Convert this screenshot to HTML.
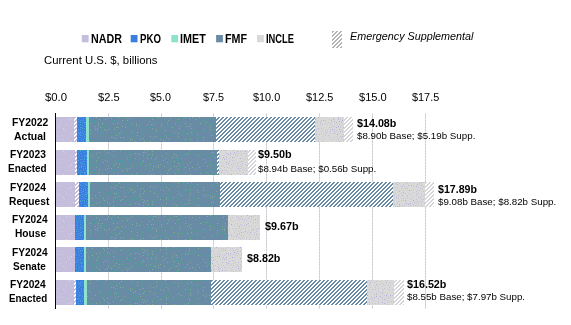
<!DOCTYPE html>
<html><head><meta charset="utf-8"><style>
html,body{margin:0;padding:0;background:#fff;}
body{width:571px;height:325px;position:relative;overflow:hidden;font-family:"Liberation Sans",sans-serif;}
.t{position:absolute;white-space:nowrap;line-height:1;transform-origin:0 0;-webkit-font-smoothing:antialiased;filter:grayscale(1);}
</style></head><body>
<svg width="571" height="325" style="position:absolute;left:0;top:0"><defs><pattern id="t_fmf" width="127" height="50" patternUnits="userSpaceOnUse"><rect width="127" height="50" fill="#6A8BA6"/><path d="M41 9h1v1h-1zM50 41h1v1h-1zM6 4h1v1h-1zM105 34h1v1h-1zM12 23h1v1h-1zM74 3h1v1h-1zM116 32h1v1h-1zM27 2h1v1h-1zM11 27h1v1h-1zM53 4h1v1h-1zM30 5h1v1h-1zM70 27h1v1h-1zM7 36h1v1h-1zM15 14h1v1h-1zM80 40h1v1h-1zM73 37h1v1h-1zM50 3h1v1h-1zM124 14h1v1h-1zM5 35h1v1h-1zM109 8h1v1h-1zM37 26h1v1h-1zM18 34h1v1h-1zM15 36h1v1h-1zM39 35h1v1h-1zM104 43h1v1h-1zM23 6h1v1h-1zM81 12h1v1h-1zM47 6h1v1h-1zM70 45h1v1h-1zM7 39h1v1h-1zM26 31h1v1h-1zM87 34h1v1h-1zM54 49h1v1h-1zM40 29h1v1h-1zM74 29h1v1h-1zM46 19h1v1h-1zM31 11h1v1h-1zM89 49h1v1h-1zM73 19h1v1h-1zM67 31h1v1h-1zM112 21h1v1h-1zM93 28h1v1h-1zM36 38h1v1h-1zM125 4h1v1h-1zM15 32h1v1h-1zM53 10h1v1h-1zM96 21h1v1h-1zM19 31h1v1h-1zM53 2h1v1h-1zM123 42h1v1h-1zM9 48h1v1h-1zM71 36h1v1h-1zM101 20h1v1h-1zM43 44h1v1h-1zM44 38h1v1h-1zM63 37h1v1h-1zM102 29h1v1h-1zM8 5h1v1h-1zM120 17h1v1h-1zM60 44h1v1h-1zM85 4h1v1h-1zM7 46h1v1h-1zM89 19h1v1h-1zM82 36h1v1h-1zM87 28h1v1h-1zM36 45h1v1h-1zM44 1h1v1h-1zM120 29h1v1h-1zM45 10h1v1h-1zM78 7h1v1h-1zM63 3h1v1h-1zM27 49h1v1h-1zM36 8h1v1h-1zM94 15h1v1h-1zM50 25h1v1h-1zM10 10h1v1h-1zM57 25h1v1h-1zM70 17h1v1h-1zM113 8h1v1h-1zM104 27h1v1h-1zM110 35h1v1h-1zM53 22h1v1h-1zM87 24h1v1h-1zM122 14h1v1h-1zM19 5h1v1h-1zM22 9h1v1h-1zM29 42h1v1h-1zM29 0h1v1h-1zM23 16h1v1h-1zM36 0h1v1h-1zM18 26h1v1h-1zM68 23h1v1h-1zM78 36h1v1h-1zM88 32h1v1h-1zM121 39h1v1h-1zM83 43h1v1h-1zM94 3h1v1h-1zM58 49h1v1h-1zM121 43h1v1h-1zM102 35h1v1h-1zM13 30h1v1h-1zM81 25h1v1h-1zM7 12h1v1h-1zM56 10h1v1h-1zM14 21h1v1h-1zM76 3h1v1h-1zM13 0h1v1h-1zM72 9h1v1h-1zM68 6h1v1h-1zM121 23h1v1h-1zM78 1h1v1h-1zM9 13h1v1h-1zM78 24h1v1h-1zM19 40h1v1h-1zM32 22h1v1h-1zM60 7h1v1h-1zM125 29h1v1h-1zM61 30h1v1h-1zM39 5h1v1h-1zM20 33h1v1h-1zM2 13h1v1h-1zM121 33h1v1h-1zM117 1h1v1h-1zM97 33h1v1h-1zM38 41h1v1h-1zM110 5h1v1h-1zM89 16h1v1h-1zM66 23h1v1h-1zM116 10h1v1h-1zM45 49h1v1h-1zM28 34h1v1h-1zM69 49h1v1h-1zM64 21h1v1h-1zM81 14h1v1h-1zM78 48h1v1h-1zM109 12h1v1h-1zM103 15h1v1h-1zM104 25h1v1h-1zM25 33h1v1h-1zM93 1h1v1h-1zM126 1h1v1h-1zM101 17h1v1h-1zM60 16h1v1h-1zM24 44h1v1h-1zM77 22h1v1h-1zM57 46h1v1h-1zM126 22h1v1h-1zM13 14h1v1h-1zM60 12h1v1h-1zM43 13h1v1h-1zM61 39h1v1h-1zM126 39h1v1h-1zM107 0h1v1h-1zM61 41h1v1h-1zM44 41h1v1h-1zM10 42h1v1h-1zM15 24h1v1h-1zM100 45h1v1h-1zM96 12h1v1h-1zM55 40h1v1h-1zM42 5h1v1h-1zM102 46h1v1h-1zM50 29h1v1h-1zM51 47h1v1h-1zM121 5h1v1h-1zM92 10h1v1h-1zM3 9h1v1h-1zM103 41h1v1h-1zM105 38h1v1h-1zM84 22h1v1h-1zM70 8h1v1h-1zM2 0h1v1h-1zM83 6h1v1h-1zM67 47h1v1h-1zM119 8h1v1h-1zM55 12h1v1h-1zM105 13h1v1h-1zM3 16h1v1h-1zM27 18h1v1h-1zM64 15h1v1h-1zM97 37h1v1h-1zM41 16h1v1h-1zM106 8h1v1h-1zM45 29h1v1h-1zM84 37h1v1h-1zM53 32h1v1h-1zM16 34h1v1h-1zM65 1h1v1h-1zM111 28h1v1h-1zM99 11h1v1h-1zM99 9h1v1h-1zM92 7h1v1h-1zM71 3h1v1h-1zM41 43h1v1h-1zM66 33h1v1h-1zM71 30h1v1h-1zM100 49h1v1h-1zM13 35h1v1h-1zM7 15h1v1h-1zM5 49h1v1h-1zM12 32h1v1h-1zM57 35h1v1h-1zM3 48h1v1h-1zM114 4h1v1h-1zM56 20h1v1h-1zM78 32h1v1h-1zM35 28h1v1h-1zM112 16h1v1h-1zM118 35h1v1h-1zM114 12h1v1h-1zM107 28h1v1h-1zM30 27h1v1h-1zM85 19h1v1h-1zM100 7h1v1h-1zM114 49h1v1h-1zM19 45h1v1h-1zM32 8h1v1h-1zM123 29h1v1h-1zM28 47h1v1h-1zM50 31h1v1h-1zM20 42h1v1h-1zM55 32h1v1h-1zM51 21h1v1h-1zM53 12h1v1h-1zM11 46h1v1h-1zM46 1h1v1h-1zM43 35h1v1h-1zM58 28h1v1h-1zM90 1h1v1h-1zM49 21h1v1h-1zM66 39h1v1h-1zM37 32h1v1h-1zM124 6h1v1h-1zM10 16h1v1h-1zM34 2h1v1h-1zM96 8h1v1h-1zM108 43h1v1h-1zM51 9h1v1h-1zM73 31h1v1h-1zM7 44h1v1h-1zM23 27h1v1h-1zM81 5h1v1h-1zM10 38h1v1h-1zM109 14h1v1h-1zM53 17h1v1h-1zM5 33h1v1h-1zM124 10h1v1h-1zM23 12h1v1h-1zM119 19h1v1h-1zM80 19h1v1h-1zM57 32h1v1h-1zM86 11h1v1h-1zM34 22h1v1h-1zM102 1h1v1h-1zM32 2h1v1h-1zM93 32h1v1h-1zM70 12h1v1h-1zM65 30h1v1h-1zM13 42h1v1h-1zM55 42h1v1h-1zM63 34h1v1h-1zM106 25h1v1h-1zM124 32h1v1h-1zM39 44h1v1h-1zM27 14h1v1h-1zM106 45h1v1h-1zM93 40h1v1h-1zM1 4h1v1h-1zM80 47h1v1h-1zM85 24h1v1h-1zM111 32h1v1h-1zM76 15h1v1h-1zM5 29h1v1h-1zM0 16h1v1h-1zM46 21h1v1h-1zM124 35h1v1h-1zM4 19h1v1h-1zM27 22h1v1h-1zM23 0h1v1h-1zM42 24h1v1h-1zM10 30h1v1h-1zM35 32h1v1h-1zM83 12h1v1h-1zM31 32h1v1h-1zM104 5h1v1h-1zM50 1h1v1h-1zM38 19h1v1h-1zM109 48h1v1h-1zM114 45h1v1h-1zM100 38h1v1h-1zM49 48h1v1h-1zM41 46h1v1h-1zM126 31h1v1h-1zM19 18h1v1h-1zM82 9h1v1h-1zM5 45h1v1h-1zM114 32h1v1h-1zM80 27h1v1h-1zM93 44h1v1h-1zM103 32h1v1h-1zM72 1h1v1h-1zM74 45h1v1h-1zM87 44h1v1h-1zM10 1h1v1h-1zM5 8h1v1h-1zM81 23h1v1h-1zM48 28h1v1h-1zM80 1h1v1h-1zM80 34h1v1h-1zM87 15h1v1h-1zM62 16h1v1h-1zM0 29h1v1h-1zM102 4h1v1h-1zM95 32h1v1h-1zM114 34h1v1h-1zM67 4h1v1h-1zM95 47h1v1h-1z" fill="#4FA08C"/><path d="M108 16h1v1h-1zM30 46h1v1h-1zM83 29h1v1h-1zM63 24h1v1h-1zM116 43h1v1h-1zM5 39h1v1h-1zM25 4h1v1h-1zM76 9h1v1h-1zM83 47h1v1h-1zM17 0h1v1h-1zM61 3h1v1h-1zM12 44h1v1h-1zM27 43h1v1h-1zM62 18h1v1h-1zM90 33h1v1h-1zM98 7h1v1h-1zM25 19h1v1h-1zM2 18h1v1h-1zM58 4h1v1h-1zM34 24h1v1h-1zM16 38h1v1h-1zM65 17h1v1h-1zM90 23h1v1h-1zM29 31h1v1h-1zM20 0h1v1h-1zM121 31h1v1h-1zM51 19h1v1h-1zM0 20h1v1h-1zM15 12h1v1h-1zM115 47h1v1h-1zM37 16h1v1h-1zM47 4h1v1h-1zM111 37h1v1h-1zM9 23h1v1h-1zM118 27h1v1h-1zM96 17h1v1h-1zM109 3h1v1h-1zM35 6h1v1h-1zM6 42h1v1h-1zM36 40h1v1h-1zM31 17h1v1h-1zM40 12h1v1h-1zM98 23h1v1h-1zM100 27h1v1h-1zM113 1h1v1h-1zM103 48h1v1h-1zM116 35h1v1h-1zM92 5h1v1h-1zM52 28h1v1h-1zM17 41h1v1h-1zM111 18h1v1h-1zM16 10h1v1h-1zM60 26h1v1h-1zM43 18h1v1h-1zM83 15h1v1h-1zM38 30h1v1h-1zM71 42h1v1h-1zM50 7h1v1h-1zM70 14h1v1h-1zM97 28h1v1h-1zM54 8h1v1h-1zM22 21h1v1h-1zM71 5h1v1h-1zM47 16h1v1h-1zM25 1h1v1h-1zM95 26h1v1h-1zM26 24h1v1h-1zM96 3h1v1h-1zM73 23h1v1h-1zM16 43h1v1h-1zM114 15h1v1h-1zM16 2h1v1h-1zM54 45h1v1h-1zM97 30h1v1h-1zM123 37h1v1h-1zM62 0h1v1h-1zM9 25h1v1h-1zM119 33h1v1h-1zM109 29h1v1h-1zM28 9h1v1h-1zM13 46h1v1h-1zM89 41h1v1h-1zM114 29h1v1h-1zM10 35h1v1h-1zM99 2h1v1h-1zM0 8h1v1h-1zM29 36h1v1h-1zM82 45h1v1h-1zM38 8h1v1h-1zM80 16h1v1h-1zM12 4h1v1h-1zM120 37h1v1h-1zM24 24h1v1h-1zM33 14h1v1h-1zM68 19h1v1h-1zM58 17h1v1h-1zM122 20h1v1h-1zM60 33h1v1h-1zM122 26h1v1h-1zM39 3h1v1h-1zM63 43h1v1h-1zM63 12h1v1h-1zM39 49h1v1h-1zM29 29h1v1h-1zM28 16h1v1h-1zM13 39h1v1h-1zM63 39h1v1h-1zM23 14h1v1h-1zM62 26h1v1h-1zM3 38h1v1h-1zM23 41h1v1h-1zM95 29h1v1h-1zM85 46h1v1h-1zM48 23h1v1h-1zM71 48h1v1h-1zM105 19h1v1h-1zM90 30h1v1h-1zM46 47h1v1h-1zM3 40h1v1h-1zM52 15h1v1h-1zM98 25h1v1h-1zM5 24h1v1h-1zM8 3h1v1h-1zM115 38h1v1h-1zM5 16h1v1h-1zM95 45h1v1h-1zM118 17h1v1h-1zM92 48h1v1h-1zM76 40h1v1h-1zM122 49h1v1h-1zM49 16h1v1h-1zM116 27h1v1h-1zM41 20h1v1h-1zM58 23h1v1h-1zM10 32h1v1h-1zM96 10h1v1h-1zM8 41h1v1h-1zM70 34h1v1h-1zM125 27h1v1h-1zM113 6h1v1h-1zM33 39h1v1h-1zM63 45h1v1h-1zM58 39h1v1h-1zM114 43h1v1h-1zM85 48h1v1h-1zM15 49h1v1h-1zM107 18h1v1h-1zM72 17h1v1h-1zM25 28h1v1h-1zM31 15h1v1h-1zM113 37h1v1h-1zM60 14h1v1h-1zM117 23h1v1h-1zM29 7h1v1h-1zM76 37h1v1h-1zM47 32h1v1h-1zM33 49h1v1h-1zM99 42h1v1h-1zM76 45h1v1h-1zM79 22h1v1h-1zM18 2h1v1h-1zM26 16h1v1h-1zM116 13h1v1h-1zM104 0h1v1h-1zM52 43h1v1h-1zM47 11h1v1h-1zM4 31h1v1h-1zM12 25h1v1h-1zM84 35h1v1h-1zM50 44h1v1h-1zM34 26h1v1h-1zM126 18h1v1h-1zM39 47h1v1h-1zM53 26h1v1h-1zM102 23h1v1h-1zM51 13h1v1h-1zM120 0h1v1h-1zM51 36h1v1h-1zM113 23h1v1h-1zM20 8h1v1h-1zM21 4h1v1h-1zM62 48h1v1h-1zM103 12h1v1h-1zM107 2h1v1h-1zM49 5h1v1h-1zM79 44h1v1h-1zM105 10h1v1h-1zM78 12h1v1h-1zM106 30h1v1h-1zM23 36h1v1h-1zM51 33h1v1h-1zM20 24h1v1h-1zM45 7h1v1h-1zM19 15h1v1h-1zM124 46h1v1h-1zM107 48h1v1h-1zM86 2h1v1h-1zM76 29h1v1h-1zM70 40h1v1h-1zM99 19h1v1h-1zM83 26h1v1h-1zM39 37h1v1h-1zM64 28h1v1h-1zM104 29h1v1h-1zM107 11h1v1h-1zM8 8h1v1h-1zM45 27h1v1h-1zM64 32h1v1h-1zM84 2h1v1h-1zM16 5h1v1h-1zM118 46h1v1h-1zM10 3h1v1h-1zM3 4h1v1h-1zM78 46h1v1h-1zM88 7h1v1h-1zM24 8h1v1h-1zM36 10h1v1h-1zM87 46h1v1h-1zM119 14h1v1h-1zM41 39h1v1h-1zM26 37h1v1h-1zM40 23h1v1h-1z" fill="#80B090"/><path d="M4 12h1v1h-1zM21 16h1v1h-1zM32 34h1v1h-1zM94 23h1v1h-1zM97 5h1v1h-1zM56 14h1v1h-1zM22 39h1v1h-1zM32 19h1v1h-1zM118 42h1v1h-1zM114 20h1v1h-1zM29 39h1v1h-1zM0 36h1v1h-1zM45 34h1v1h-1zM28 26h1v1h-1zM79 30h1v1h-1zM90 9h1v1h-1zM57 6h1v1h-1zM68 1h1v1h-1zM51 11h1v1h-1zM7 49h1v1h-1zM64 41h1v1h-1zM22 32h1v1h-1zM100 30h1v1h-1zM0 24h1v1h-1zM13 16h1v1h-1zM118 44h1v1h-1zM91 3h1v1h-1zM100 33h1v1h-1zM124 16h1v1h-1zM1 10h1v1h-1zM25 10h1v1h-1zM30 24h1v1h-1zM116 40h1v1h-1zM125 42h1v1h-1zM107 34h1v1h-1zM109 1h1v1h-1zM101 13h1v1h-1zM50 39h1v1h-1zM3 7h1v1h-1zM118 10h1v1h-1zM3 2h1v1h-1zM82 40h1v1h-1zM109 37h1v1h-1zM14 2h1v1h-1zM105 48h1v1h-1zM36 30h1v1h-1zM12 8h1v1h-1zM12 48h1v1h-1zM43 27h1v1h-1zM44 16h1v1h-1zM116 20h1v1h-1zM3 26h1v1h-1zM66 49h1v1h-1zM72 13h1v1h-1zM21 27h1v1h-1zM0 33h1v1h-1zM97 48h1v1h-1zM62 6h1v1h-1zM101 11h1v1h-1zM75 22h1v1h-1zM33 36h1v1h-1zM120 10h1v1h-1zM36 13h1v1h-1zM113 41h1v1h-1zM3 23h1v1h-1zM64 10h1v1h-1zM48 40h1v1h-1zM76 48h1v1h-1zM66 9h1v1h-1zM94 20h1v1h-1zM21 29h1v1h-1zM56 44h1v1h-1zM98 16h1v1h-1zM74 14h1v1h-1zM16 21h1v1h-1zM59 41h1v1h-1zM90 39h1v1h-1zM92 20h1v1h-1zM30 20h1v1h-1zM122 12h1v1h-1zM33 46h1v1h-1zM13 10h1v1h-1zM13 12h1v1h-1zM49 9h1v1h-1zM55 17h1v1h-1zM25 6h1v1h-1zM59 2h1v1h-1zM109 27h1v1h-1zM0 47h1v1h-1zM89 36h1v1h-1zM83 49h1v1h-1zM91 45h1v1h-1zM80 10h1v1h-1zM32 27h1v1h-1zM66 43h1v1h-1zM41 49h1v1h-1zM116 6h1v1h-1zM26 45h1v1h-1zM66 21h1v1h-1zM86 22h1v1h-1zM74 16h1v1h-1zM102 25h1v1h-1zM118 49h1v1h-1zM24 30h1v1h-1zM92 14h1v1h-1zM97 35h1v1h-1zM45 14h1v1h-1zM48 43h1v1h-1zM83 19h1v1h-1zM109 24h1v1h-1zM105 36h1v1h-1zM1 42h1v1h-1zM12 37h1v1h-1zM77 5h1v1h-1zM100 40h1v1h-1zM88 13h1v1h-1zM85 7h1v1h-1zM107 20h1v1h-1zM119 21h1v1h-1zM91 26h1v1h-1zM80 8h1v1h-1zM110 42h1v1h-1zM60 49h1v1h-1zM67 35h1v1h-1zM98 13h1v1h-1zM6 18h1v1h-1zM37 22h1v1h-1z" fill="#3FA4A8"/></pattern><pattern id="t_nadr" width="29" height="23" patternUnits="userSpaceOnUse"><rect width="29" height="23" fill="#C4BDDC"/><path d="M26 15h1v1h-1zM12 10h1v1h-1zM16 8h1v1h-1zM11 6h1v1h-1zM20 15h1v1h-1zM25 3h1v1h-1zM10 22h1v1h-1zM9 4h1v1h-1zM18 20h1v1h-1zM2 1h1v1h-1zM12 17h1v1h-1zM28 12h1v1h-1zM17 18h1v1h-1zM1 12h1v1h-1zM0 1h1v1h-1zM6 15h1v1h-1zM1 16h1v1h-1zM12 19h1v1h-1zM4 20h1v1h-1zM21 22h1v1h-1zM22 19h1v1h-1zM28 21h1v1h-1zM2 6h1v1h-1zM1 21h1v1h-1zM20 5h1v1h-1zM5 1h1v1h-1z" fill="#CEC8E6"/><path d="M13 3h1v1h-1zM11 4h1v1h-1zM25 9h1v1h-1zM17 22h1v1h-1zM8 9h1v1h-1zM5 13h1v1h-1zM1 10h1v1h-1zM18 1h1v1h-1zM15 18h1v1h-1zM16 1h1v1h-1z" fill="#D9D4EE"/></pattern><pattern id="t_pko" width="40" height="50" patternUnits="userSpaceOnUse"><rect width="40" height="50" fill="#3C7EE0"/><path d="M7 49h1v1h-1zM26 36h1v1h-1zM25 28h1v1h-1zM4 0h1v1h-1zM24 38h1v1h-1zM37 42h1v1h-1zM9 30h1v1h-1zM6 5h1v1h-1zM30 13h1v1h-1zM9 40h1v1h-1zM0 27h1v1h-1zM0 0h1v1h-1zM13 7h1v1h-1zM1 17h1v1h-1zM36 15h1v1h-1zM28 46h1v1h-1zM11 3h1v1h-1zM23 49h1v1h-1zM9 46h1v1h-1zM5 18h1v1h-1zM35 45h1v1h-1zM31 29h1v1h-1zM16 3h1v1h-1zM2 0h1v1h-1zM39 5h1v1h-1zM24 19h1v1h-1zM19 46h1v1h-1zM38 10h1v1h-1zM31 38h1v1h-1zM3 20h1v1h-1zM23 36h1v1h-1zM28 30h1v1h-1zM10 9h1v1h-1zM7 23h1v1h-1zM26 30h1v1h-1zM28 17h1v1h-1zM36 21h1v1h-1zM18 17h1v1h-1zM3 39h1v1h-1zM38 21h1v1h-1zM38 46h1v1h-1zM0 9h1v1h-1zM38 19h1v1h-1zM37 27h1v1h-1zM15 24h1v1h-1zM24 43h1v1h-1zM14 28h1v1h-1zM18 44h1v1h-1zM0 20h1v1h-1zM16 17h1v1h-1zM27 10h1v1h-1zM37 48h1v1h-1zM9 36h1v1h-1zM9 17h1v1h-1zM35 43h1v1h-1zM31 22h1v1h-1zM34 5h1v1h-1zM34 35h1v1h-1zM31 24h1v1h-1zM12 48h1v1h-1zM14 19h1v1h-1zM38 3h1v1h-1zM13 16h1v1h-1zM0 24h1v1h-1zM29 34h1v1h-1zM5 34h1v1h-1zM4 14h1v1h-1zM33 16h1v1h-1zM33 20h1v1h-1zM30 32h1v1h-1zM37 12h1v1h-1zM12 13h1v1h-1zM12 5h1v1h-1zM11 44h1v1h-1zM18 23h1v1h-1zM36 36h1v1h-1zM22 25h1v1h-1zM33 9h1v1h-1zM29 5h1v1h-1zM9 20h1v1h-1zM38 1h1v1h-1zM22 17h1v1h-1zM33 38h1v1h-1zM1 6h1v1h-1zM2 13h1v1h-1zM36 31h1v1h-1zM17 27h1v1h-1zM6 28h1v1h-1zM37 38h1v1h-1zM12 11h1v1h-1zM24 5h1v1h-1zM1 3h1v1h-1zM2 35h1v1h-1zM23 45h1v1h-1zM25 7h1v1h-1zM5 16h1v1h-1zM20 36h1v1h-1zM14 41h1v1h-1zM5 42h1v1h-1zM11 28h1v1h-1zM10 23h1v1h-1zM15 46h1v1h-1zM14 11h1v1h-1zM22 3h1v1h-1zM35 1h1v1h-1zM3 16h1v1h-1zM32 45h1v1h-1zM30 3h1v1h-1zM6 9h1v1h-1zM20 48h1v1h-1zM0 12h1v1h-1zM6 30h1v1h-1zM20 23h1v1h-1zM15 9h1v1h-1zM0 29h1v1h-1zM10 14h1v1h-1zM23 47h1v1h-1zM24 1h1v1h-1zM4 28h1v1h-1zM21 20h1v1h-1zM14 30h1v1h-1zM7 40h1v1h-1zM23 9h1v1h-1zM21 14h1v1h-1zM3 11h1v1h-1zM9 28h1v1h-1zM26 26h1v1h-1zM36 18h1v1h-1zM21 10h1v1h-1zM16 31h1v1h-1zM6 20h1v1h-1zM32 3h1v1h-1zM13 35h1v1h-1zM30 18h1v1h-1zM7 16h1v1h-1zM12 23h1v1h-1zM15 15h1v1h-1zM18 9h1v1h-1zM28 0h1v1h-1zM33 18h1v1h-1zM27 2h1v1h-1zM26 13h1v1h-1zM17 36h1v1h-1zM11 33h1v1h-1zM5 38h1v1h-1zM31 48h1v1h-1zM17 11h1v1h-1zM39 42h1v1h-1zM12 37h1v1h-1zM19 12h1v1h-1zM33 26h1v1h-1zM3 33h1v1h-1zM18 40h1v1h-1zM31 5h1v1h-1zM30 8h1v1h-1zM17 15h1v1h-1zM22 33h1v1h-1zM4 7h1v1h-1zM3 18h1v1h-1zM6 46h1v1h-1zM32 1h1v1h-1zM8 1h1v1h-1zM15 5h1v1h-1zM14 39h1v1h-1zM6 44h1v1h-1zM1 38h1v1h-1zM36 29h1v1h-1zM22 6h1v1h-1zM17 7h1v1h-1zM7 7h1v1h-1zM9 42h1v1h-1zM25 10h1v1h-1zM1 40h1v1h-1zM26 38h1v1h-1zM38 33h1v1h-1zM2 25h1v1h-1zM23 21h1v1h-1zM25 15h1v1h-1zM21 45h1v1h-1zM20 25h1v1h-1zM35 3h1v1h-1zM20 33h1v1h-1zM27 42h1v1h-1zM20 27h1v1h-1zM8 26h1v1h-1zM25 49h1v1h-1zM29 40h1v1h-1zM39 17h1v1h-1zM27 15h1v1h-1zM22 41h1v1h-1zM10 7h1v1h-1zM7 32h1v1h-1zM24 12h1v1h-1zM23 29h1v1h-1zM1 15h1v1h-1zM34 24h1v1h-1zM37 25h1v1h-1zM0 22h1v1h-1zM20 31h1v1h-1zM14 43h1v1h-1zM12 39h1v1h-1zM38 7h1v1h-1zM20 0h1v1h-1zM28 19h1v1h-1zM38 15h1v1h-1zM34 49h1v1h-1zM33 33h1v1h-1zM27 24h1v1h-1zM29 22h1v1h-1zM9 12h1v1h-1zM39 37h1v1h-1zM33 47h1v1h-1zM26 40h1v1h-1zM18 32h1v1h-1zM13 32h1v1h-1zM12 26h1v1h-1zM36 40h1v1h-1zM2 44h1v1h-1zM11 31h1v1h-1zM33 31h1v1h-1zM15 22h1v1h-1zM4 22h1v1h-1zM2 28h1v1h-1zM14 2h1v1h-1zM11 20h1v1h-1zM26 19h1v1h-1zM25 45h1v1h-1zM11 0h1v1h-1zM18 25h1v1h-1zM27 22h1v1h-1zM17 42h1v1h-1zM8 5h1v1h-1zM29 15h1v1h-1zM25 24h1v1h-1zM32 13h1v1h-1zM16 38h1v1h-1zM28 37h1v1h-1zM36 9h1v1h-1zM12 42h1v1h-1zM4 45h1v1h-1z" fill="#44A6D0"/><path d="M19 5h1v1h-1zM1 42h1v1h-1zM25 22h1v1h-1zM6 11h1v1h-1zM18 2h1v1h-1zM5 26h1v1h-1zM25 47h1v1h-1zM27 28h1v1h-1zM28 32h1v1h-1zM15 34h1v1h-1zM26 5h1v1h-1zM31 42h1v1h-1zM15 0h1v1h-1zM28 8h1v1h-1zM7 35h1v1h-1zM27 48h1v1h-1zM9 38h1v1h-1zM18 0h1v1h-1zM23 31h1v1h-1zM4 2h1v1h-1zM31 27h1v1h-1zM33 43h1v1h-1zM25 3h1v1h-1zM13 46h1v1h-1zM11 46h1v1h-1zM29 27h1v1h-1zM34 40h1v1h-1zM21 38h1v1h-1zM28 44h1v1h-1zM37 23h1v1h-1zM7 14h1v1h-1zM35 47h1v1h-1zM36 5h1v1h-1zM25 34h1v1h-1zM33 22h1v1h-1zM22 12h1v1h-1zM30 10h1v1h-1zM24 17h1v1h-1zM8 44h1v1h-1zM29 25h1v1h-1zM4 31h1v1h-1zM28 12h1v1h-1zM20 3h1v1h-1zM9 33h1v1h-1zM23 27h1v1h-1zM7 3h1v1h-1zM11 16h1v1h-1zM17 19h1v1h-1zM17 48h1v1h-1zM31 15h1v1h-1zM16 44h1v1h-1zM20 29h1v1h-1zM30 46h1v1h-1zM23 15h1v1h-1zM35 12h1v1h-1zM20 16h1v1h-1zM13 21h1v1h-1zM4 5h1v1h-1zM4 36h1v1h-1zM25 32h1v1h-1zM38 31h1v1h-1zM9 49h1v1h-1zM14 37h1v1h-1zM21 43h1v1h-1zM2 22h1v1h-1zM7 42h1v1h-1zM1 48h1v1h-1zM35 7h1v1h-1zM15 7h1v1h-1zM17 34h1v1h-1zM36 34h1v1h-1zM12 18h1v1h-1zM7 18h1v1h-1zM38 40h1v1h-1zM17 21h1v1h-1zM31 20h1v1h-1zM3 41h1v1h-1zM8 9h1v1h-1zM13 0h1v1h-1zM14 13h1v1h-1zM17 46h1v1h-1zM30 36h1v1h-1zM10 25h1v1h-1zM30 44h1v1h-1zM18 29h1v1h-1zM0 35h1v1h-1zM39 48h1v1h-1zM0 45h1v1h-1zM2 9h1v1h-1zM22 23h1v1h-1zM16 29h1v1h-1zM38 29h1v1h-1zM10 5h1v1h-1zM6 1h1v1h-1zM19 42h1v1h-1zM15 26h1v1h-1zM29 42h1v1h-1zM12 9h1v1h-1zM38 35h1v1h-1zM3 48h1v1h-1zM20 7h1v1h-1zM24 40h1v1h-1zM19 21h1v1h-1zM38 44h1v1h-1zM32 40h1v1h-1zM33 11h1v1h-1zM19 19h1v1h-1zM19 14h1v1h-1zM5 40h1v1h-1zM30 1h1v1h-1zM9 3h1v1h-1zM0 32h1v1h-1zM17 5h1v1h-1zM7 38h1v1h-1zM2 31h1v1h-1zM15 48h1v1h-1zM16 40h1v1h-1zM32 35h1v1h-1zM34 28h1v1h-1zM35 38h1v1h-1zM35 11h1v1h-1zM17 13h1v1h-1zM29 48h1v1h-1zM11 35h1v1h-1zM2 46h1v1h-1zM5 24h1v1h-1zM4 9h1v1h-1zM22 1h1v1h-1zM26 17h1v1h-1zM6 6h1v1h-1zM21 23h1v1h-1zM28 22h1v1h-1zM7 43h1v1h-1zM34 14h1v1h-1zM27 34h1v1h-1zM6 33h1v1h-1zM32 7h1v1h-1zM34 20h1v1h-1zM36 25h1v1h-1zM1 17h1v1h-1zM34 22h1v1h-1zM4 23h1v1h-1zM28 18h1v1h-1zM5 48h1v1h-1zM0 34h1v1h-1zM21 21h1v1h-1zM10 43h1v1h-1zM33 38h1v1h-1zM18 38h1v1h-1zM2 46h1v1h-1zM28 46h1v1h-1zM39 45h1v1h-1zM15 3h1v1h-1zM1 16h1v1h-1zM20 40h1v1h-1zM23 8h1v1h-1zM22 25h1v1h-1zM5 5h1v1h-1zM5 22h1v1h-1zM23 18h1v1h-1zM0 1h1v1h-1zM36 9h1v1h-1zM5 44h1v1h-1zM32 32h1v1h-1zM21 27h1v1h-1zM35 4h1v1h-1zM34 20h1v1h-1zM28 26h1v1h-1zM17 44h1v1h-1zM16 19h1v1h-1zM29 44h1v1h-1zM7 17h1v1h-1zM15 4h1v1h-1zM22 5h1v1h-1zM37 10h1v1h-1zM19 1h1v1h-1zM29 7h1v1h-1zM16 29h1v1h-1zM14 5h1v1h-1zM8 10h1v1h-1zM23 45h1v1h-1zM14 34h1v1h-1zM17 47h1v1h-1zM26 31h1v1h-1zM1 13h1v1h-1zM27 12h1v1h-1zM6 34h1v1h-1zM28 22h1v1h-1zM38 49h1v1h-1zM14 16h1v1h-1zM21 26h1v1h-1zM33 39h1v1h-1zM28 16h1v1h-1zM31 8h1v1h-1zM13 29h1v1h-1zM39 33h1v1h-1zM1 32h1v1h-1zM27 21h1v1h-1zM8 45h1v1h-1zM1 27h1v1h-1z" fill="#4C98EE"/></pattern><pattern id="t_incle" width="60" height="50" patternUnits="userSpaceOnUse"><rect width="60" height="50" fill="#D9D9D8"/><path d="M57 14h1v1h-1zM13 16h1v1h-1zM53 13h1v1h-1zM50 5h1v1h-1zM25 20h1v1h-1zM42 5h1v1h-1zM8 18h1v1h-1zM16 29h1v1h-1zM15 26h1v1h-1zM34 21h1v1h-1zM32 45h1v1h-1zM39 33h1v1h-1zM56 43h1v1h-1zM4 44h1v1h-1zM2 13h1v1h-1zM34 4h1v1h-1zM54 7h1v1h-1zM43 15h1v1h-1zM34 29h1v1h-1zM24 45h1v1h-1zM47 17h1v1h-1zM33 42h1v1h-1zM50 18h1v1h-1zM16 13h1v1h-1zM21 20h1v1h-1zM35 9h1v1h-1zM25 30h1v1h-1zM4 3h1v1h-1zM42 9h1v1h-1zM46 20h1v1h-1zM40 18h1v1h-1zM30 24h1v1h-1zM25 35h1v1h-1zM3 8h1v1h-1zM41 0h1v1h-1zM41 38h1v1h-1zM8 23h1v1h-1zM28 48h1v1h-1zM29 1h1v1h-1zM31 1h1v1h-1zM33 33h1v1h-1zM23 6h1v1h-1zM48 43h1v1h-1zM0 14h1v1h-1zM51 20h1v1h-1zM13 23h1v1h-1zM17 22h1v1h-1zM2 46h1v1h-1zM18 38h1v1h-1zM6 20h1v1h-1zM46 14h1v1h-1zM6 37h1v1h-1zM44 5h1v1h-1zM5 28h1v1h-1zM59 28h1v1h-1zM15 9h1v1h-1zM43 27h1v1h-1zM1 5h1v1h-1zM20 5h1v1h-1zM14 35h1v1h-1zM7 8h1v1h-1zM33 2h1v1h-1zM32 39h1v1h-1zM30 47h1v1h-1zM23 13h1v1h-1zM58 31h1v1h-1zM9 2h1v1h-1zM18 17h1v1h-1zM10 21h1v1h-1zM53 4h1v1h-1zM44 23h1v1h-1zM38 39h1v1h-1zM3 36h1v1h-1zM37 24h1v1h-1zM31 22h1v1h-1zM20 24h1v1h-1zM44 20h1v1h-1zM46 9h1v1h-1zM52 28h1v1h-1zM18 48h1v1h-1zM38 14h1v1h-1zM15 22h1v1h-1zM21 31h1v1h-1zM42 31h1v1h-1zM51 40h1v1h-1zM18 13h1v1h-1zM29 39h1v1h-1zM45 43h1v1h-1zM58 47h1v1h-1zM28 46h1v1h-1zM15 3h1v1h-1zM14 0h1v1h-1zM25 23h1v1h-1zM30 31h1v1h-1zM30 33h1v1h-1zM18 3h1v1h-1zM13 12h1v1h-1zM52 48h1v1h-1zM45 33h1v1h-1zM29 13h1v1h-1zM49 30h1v1h-1zM23 29h1v1h-1zM55 30h1v1h-1zM40 36h1v1h-1zM56 41h1v1h-1zM43 34h1v1h-1zM41 43h1v1h-1zM23 41h1v1h-1zM21 15h1v1h-1zM59 20h1v1h-1zM4 20h1v1h-1zM24 17h1v1h-1zM41 48h1v1h-1zM43 40h1v1h-1zM35 33h1v1h-1zM0 24h1v1h-1zM3 32h1v1h-1zM20 13h1v1h-1zM10 12h1v1h-1zM38 1h1v1h-1zM44 36h1v1h-1zM3 11h1v1h-1zM17 36h1v1h-1zM0 30h1v1h-1zM40 8h1v1h-1zM8 49h1v1h-1zM18 1h1v1h-1zM27 24h1v1h-1zM20 7h1v1h-1zM33 0h1v1h-1zM9 39h1v1h-1zM10 49h1v1h-1zM36 11h1v1h-1zM19 34h1v1h-1zM40 27h1v1h-1zM28 22h1v1h-1zM49 8h1v1h-1zM29 27h1v1h-1zM29 19h1v1h-1zM22 47h1v1h-1zM30 29h1v1h-1zM22 24h1v1h-1zM12 3h1v1h-1zM16 31h1v1h-1zM56 45h1v1h-1zM57 5h1v1h-1zM56 16h1v1h-1zM29 15h1v1h-1zM44 31h1v1h-1zM1 44h1v1h-1zM14 32h1v1h-1zM9 16h1v1h-1zM18 41h1v1h-1zM1 28h1v1h-1zM9 4h1v1h-1zM3 22h1v1h-1zM28 6h1v1h-1zM57 23h1v1h-1zM54 10h1v1h-1zM58 43h1v1h-1zM3 49h1v1h-1zM11 46h1v1h-1zM28 11h1v1h-1zM31 9h1v1h-1zM36 40h1v1h-1zM47 39h1v1h-1zM31 27h1v1h-1zM2 19h1v1h-1zM15 5h1v1h-1zM34 48h1v1h-1zM53 36h1v1h-1zM11 25h1v1h-1zM11 30h1v1h-1zM15 39h1v1h-1zM37 3h1v1h-1zM27 2h1v1h-1zM46 26h1v1h-1zM1 49h1v1h-1zM28 35h1v1h-1zM58 3h1v1h-1zM11 28h1v1h-1zM26 47h1v1h-1zM10 37h1v1h-1zM37 37h1v1h-1zM17 6h1v1h-1zM53 15h1v1h-1zM3 41h1v1h-1zM34 26h1v1h-1zM10 8h1v1h-1zM49 11h1v1h-1zM58 37h1v1h-1zM5 14h1v1h-1zM25 14h1v1h-1zM12 9h1v1h-1zM21 33h1v1h-1zM8 30h1v1h-1zM2 1h1v1h-1zM54 32h1v1h-1zM9 34h1v1h-1zM58 16h1v1h-1zM35 43h1v1h-1zM1 3h1v1h-1zM50 49h1v1h-1zM53 42h1v1h-1zM32 25h1v1h-1zM47 22h1v1h-1zM33 15h1v1h-1zM47 37h1v1h-1zM55 5h1v1h-1zM0 1h1v1h-1zM41 29h1v1h-1zM37 32h1v1h-1zM47 24h1v1h-1zM21 28h1v1h-1zM12 41h1v1h-1zM59 40h1v1h-1zM35 15h1v1h-1zM42 12h1v1h-1zM6 49h1v1h-1zM5 9h1v1h-1zM4 47h1v1h-1zM36 30h1v1h-1zM12 39h1v1h-1zM34 37h1v1h-1zM56 3h1v1h-1zM6 12h1v1h-1zM29 37h1v1h-1zM24 38h1v1h-1zM5 18h1v1h-1zM22 39h1v1h-1zM41 25h1v1h-1zM53 39h1v1h-1zM4 25h1v1h-1zM6 40h1v1h-1zM30 5h1v1h-1zM26 0h1v1h-1zM49 15h1v1h-1zM56 20h1v1h-1zM51 14h1v1h-1zM47 47h1v1h-1zM20 42h1v1h-1zM8 26h1v1h-1zM15 15h1v1h-1zM49 23h1v1h-1zM13 20h1v1h-1zM14 44h1v1h-1zM38 48h1v1h-1zM27 30h1v1h-1zM24 11h1v1h-1zM18 15h1v1h-1zM33 17h1v1h-1zM49 28h1v1h-1zM22 36h1v1h-1zM23 34h1v1h-1zM7 32h1v1h-1zM26 8h1v1h-1zM35 6h1v1h-1zM15 37h1v1h-1zM0 18h1v1h-1zM58 12h1v1h-1zM50 44h1v1h-1zM39 24h1v1h-1zM6 4h1v1h-1zM20 11h1v1h-1zM54 25h1v1h-1zM22 49h1v1h-1zM3 28h1v1h-1zM11 18h1v1h-1zM52 10h1v1h-1zM47 45h1v1h-1zM16 42h1v1h-1zM6 6h1v1h-1zM55 28h1v1h-1zM44 25h1v1h-1zM34 23h1v1h-1zM56 49h1v1h-1zM2 38h1v1h-1zM52 17h1v1h-1zM2 25h1v1h-1zM11 6h1v1h-1zM53 21h1v1h-1zM43 48h1v1h-1zM57 28h1v1h-1zM0 38h1v1h-1zM21 17h1v1h-1zM57 25h1v1h-1zM17 20h1v1h-1zM6 47h1v1h-1zM27 43h1v1h-1zM10 42h1v1h-1zM27 4h1v1h-1zM52 46h1v1h-1zM46 30h1v1h-1zM45 48h1v1h-1zM50 33h1v1h-1zM27 14h1v1h-1zM43 0h1v1h-1zM44 17h1v1h-1zM55 12h1v1h-1zM41 15h1v1h-1z" fill="#C6C2DE"/><path d="M15 7h1v1h-1zM0 8h1v1h-1zM51 35h1v1h-1zM59 26h1v1h-1zM41 22h1v1h-1zM44 9h1v1h-1zM22 43h1v1h-1zM33 7h1v1h-1zM47 32h1v1h-1zM38 17h1v1h-1zM15 19h1v1h-1zM45 38h1v1h-1zM34 45h1v1h-1zM32 29h1v1h-1zM39 6h1v1h-1zM13 29h1v1h-1zM38 19h1v1h-1zM48 4h1v1h-1zM48 35h1v1h-1zM42 45h1v1h-1zM12 48h1v1h-1zM33 10h1v1h-1zM39 29h1v1h-1zM39 4h1v1h-1zM23 20h1v1h-1zM16 34h1v1h-1zM10 32h1v1h-1zM26 11h1v1h-1zM31 7h1v1h-1zM22 2h1v1h-1zM26 32h1v1h-1zM34 31h1v1h-1zM31 20h1v1h-1zM42 36h1v1h-1zM32 13h1v1h-1zM50 3h1v1h-1zM7 45h1v1h-1zM33 19h1v1h-1zM58 18h1v1h-1zM1 16h1v1h-1zM54 2h1v1h-1zM6 24h1v1h-1zM46 7h1v1h-1zM45 0h1v1h-1zM11 16h1v1h-1zM37 6h1v1h-1zM38 26h1v1h-1zM20 46h1v1h-1zM24 49h1v1h-1zM36 22h1v1h-1zM1 35h1v1h-1zM22 8h1v1h-1zM36 47h1v1h-1zM59 33h1v1h-1zM38 45h1v1h-1zM39 21h1v1h-1zM5 31h1v1h-1zM52 7h1v1h-1zM1 11h1v1h-1zM43 42h1v1h-1zM57 1h1v1h-1zM43 7h1v1h-1zM49 40h1v1h-1zM37 34h1v1h-1zM0 47h1v1h-1zM14 47h1v1h-1zM1 32h1v1h-1zM53 0h1v1h-1zM36 27h1v1h-1zM39 41h1v1h-1zM24 3h1v1h-1zM48 13h1v1h-1zM51 24h1v1h-1zM56 36h1v1h-1zM20 22h1v1h-1zM16 46h1v1h-1zM7 15h1v1h-1zM57 34h1v1h-1zM5 1h1v1h-1zM16 44h1v1h-1zM8 11h1v1h-1zM42 20h1v1h-1zM26 45h1v1h-1zM40 31h1v1h-1zM18 10h1v1h-1zM18 28h1v1h-1zM46 12h1v1h-1zM30 45h1v1h-1zM46 3h1v1h-1zM7 42h1v1h-1z" fill="#B3ACE2"/></pattern><pattern id="grid" width="1" height="3" patternUnits="userSpaceOnUse"><rect width="1" height="3" fill="#E2E2E4"/><rect width="1" height="2" fill="#CDCDD4"/></pattern><pattern id="p_leg" x="1" width="4" height="4" patternUnits="userSpaceOnUse"><rect width="4" height="4" fill="#fff"/><path d="M2 0h2v1h-2zM1 1h2v1h-2zM0 2h2v1h-2zM3 3h1v1h-1zM0 3h1v1h-1z" fill="#B4B4B8"/></pattern><pattern id="p_nadr" x="1" width="4" height="4" patternUnits="userSpaceOnUse"><rect width="4" height="4" fill="#fff"/><path d="M2 0h2v1h-2zM1 1h2v1h-2zM0 2h2v1h-2zM3 3h1v1h-1zM0 3h1v1h-1z" fill="#C4BDDC"/></pattern><pattern id="p_pko" x="1" width="4" height="4" patternUnits="userSpaceOnUse"><rect width="4" height="4" fill="#fff"/><path d="M2 0h2v1h-2zM1 1h2v1h-2zM0 2h2v1h-2zM3 3h1v1h-1zM0 3h1v1h-1z" fill="#3C7EE0"/></pattern><pattern id="p_imet" x="1" width="4" height="4" patternUnits="userSpaceOnUse"><rect width="4" height="4" fill="#fff"/><path d="M2 0h2v1h-2zM1 1h2v1h-2zM0 2h2v1h-2zM3 3h1v1h-1zM0 3h1v1h-1z" fill="#8CE3CD"/></pattern><pattern id="p_fmf" x="1" width="4" height="4" patternUnits="userSpaceOnUse"><rect width="4" height="4" fill="#fff"/><path d="M2 0h2v1h-2zM1 1h2v1h-2zM0 2h2v1h-2zM3 3h1v1h-1zM0 3h1v1h-1z" fill="#6A8BA6"/></pattern><pattern id="p_incle" x="1" width="4" height="4" patternUnits="userSpaceOnUse"><rect width="4" height="4" fill="#fff"/><path d="M2 0h2v1h-2zM1 1h2v1h-2zM0 2h2v1h-2zM3 3h1v1h-1zM0 3h1v1h-1z" fill="#D4D4D8"/></pattern></defs><rect x="108" y="113" width="1" height="196" fill="url(#grid)"/><rect x="161" y="113" width="1" height="196" fill="url(#grid)"/><rect x="213" y="113" width="1" height="196" fill="url(#grid)"/><rect x="266" y="113" width="1" height="196" fill="url(#grid)"/><rect x="319" y="113" width="1" height="196" fill="url(#grid)"/><rect x="372" y="113" width="1" height="196" fill="url(#grid)"/><rect x="425" y="113" width="1" height="196" fill="url(#grid)"/><rect x="56.00" y="117.00" width="18.00" height="25.00" fill="url(#t_nadr)"/><rect x="74.00" y="117.00" width="3.00" height="25.00" fill="url(#p_nadr)"/><rect x="77.00" y="117.00" width="9.00" height="25.00" fill="url(#t_pko)"/><rect x="86.00" y="117.00" width="3.00" height="25.00" fill="#8CE3CD"/><rect x="89.00" y="117.00" width="127.00" height="25.00" fill="url(#t_fmf)"/><rect x="216.00" y="117.00" width="99.00" height="25.00" fill="url(#p_fmf)"/><rect x="315.00" y="117.00" width="29.00" height="25.00" fill="url(#t_incle)"/><rect x="344.00" y="117.00" width="9.00" height="25.00" fill="url(#p_incle)"/><rect x="56.00" y="150.00" width="19.00" height="25.00" fill="url(#t_nadr)"/><rect x="75.00" y="150.00" width="2.00" height="25.00" fill="url(#p_nadr)"/><rect x="77.00" y="150.00" width="10.00" height="25.00" fill="url(#t_pko)"/><rect x="87.00" y="150.00" width="2.00" height="25.00" fill="#8CE3CD"/><rect x="89.00" y="150.00" width="128.00" height="25.00" fill="url(#t_fmf)"/><rect x="217.00" y="150.00" width="2.00" height="25.00" fill="url(#p_fmf)"/><rect x="219.00" y="150.00" width="29.00" height="25.00" fill="url(#t_incle)"/><rect x="248.00" y="150.00" width="8.00" height="25.00" fill="url(#p_incle)"/><rect x="56.00" y="182.00" width="19.00" height="25.00" fill="url(#t_nadr)"/><rect x="75.00" y="182.00" width="4.00" height="25.00" fill="url(#p_nadr)"/><rect x="79.00" y="182.00" width="9.00" height="25.00" fill="url(#t_pko)"/><rect x="88.00" y="182.00" width="2.00" height="25.00" fill="#8CE3CD"/><rect x="90.00" y="182.00" width="130.00" height="25.00" fill="url(#t_fmf)"/><rect x="220.00" y="182.00" width="173.00" height="25.00" fill="url(#p_fmf)"/><rect x="393.00" y="182.00" width="32.00" height="25.00" fill="url(#t_incle)"/><rect x="425.00" y="182.00" width="9.00" height="25.00" fill="url(#p_incle)"/><rect x="56.00" y="215.00" width="19.00" height="25.00" fill="url(#t_nadr)"/><rect x="75.00" y="215.00" width="9.00" height="25.00" fill="url(#t_pko)"/><rect x="84.00" y="215.00" width="2.00" height="25.00" fill="#8CE3CD"/><rect x="86.00" y="215.00" width="142.00" height="25.00" fill="url(#t_fmf)"/><rect x="228.00" y="215.00" width="32.00" height="25.00" fill="url(#t_incle)"/><rect x="56.00" y="247.00" width="19.00" height="25.00" fill="url(#t_nadr)"/><rect x="75.00" y="247.00" width="9.00" height="25.00" fill="url(#t_pko)"/><rect x="84.00" y="247.00" width="2.00" height="25.00" fill="#8CE3CD"/><rect x="86.00" y="247.00" width="125.00" height="25.00" fill="url(#t_fmf)"/><rect x="211.00" y="247.00" width="31.00" height="25.00" fill="url(#t_incle)"/><rect x="56.00" y="280.00" width="18.00" height="25.00" fill="url(#t_nadr)"/><rect x="74.00" y="280.00" width="2.00" height="25.00" fill="url(#p_nadr)"/><rect x="76.00" y="280.00" width="8.00" height="25.00" fill="url(#t_pko)"/><rect x="84.00" y="280.00" width="3.00" height="25.00" fill="#8CE3CD"/><rect x="87.00" y="280.00" width="124.00" height="25.00" fill="url(#t_fmf)"/><rect x="211.00" y="280.00" width="156.00" height="25.00" fill="url(#p_fmf)"/><rect x="367.00" y="280.00" width="27.00" height="25.00" fill="url(#t_incle)"/><rect x="394.00" y="280.00" width="10.00" height="25.00" fill="url(#p_incle)"/><rect x="55.00" y="113.00" width="1.00" height="196.00" fill="#000"/><rect x="81.80" y="35" width="6.8" height="7.3" fill="#C4BDDC"/><rect x="130.70" y="35" width="6.8" height="7.3" fill="#3C7EE0"/><rect x="171.30" y="35" width="6.8" height="7.3" fill="#8CE3CD"/><rect x="216.10" y="35" width="6.8" height="7.3" fill="#6A8BA6"/><rect x="257.00" y="35" width="6.8" height="7.3" fill="#D9D9D8"/><rect x="332" y="31" width="10" height="17" fill="url(#p_leg)"/></svg>
<div class="t" style="left:91.33px;top:32.84px;font-size:12px;font-weight:bold;font-style:normal;transform:scaleX(0.8922);color:#000">NADR</div>
<div class="t" style="left:140.20px;top:32.84px;font-size:12px;font-weight:bold;font-style:normal;transform:scaleX(0.8040);color:#000">PKO</div>
<div class="t" style="left:180.13px;top:32.84px;font-size:12px;font-weight:bold;font-style:normal;transform:scaleX(0.8969);color:#000">IMET</div>
<div class="t" style="left:225.33px;top:32.84px;font-size:12px;font-weight:bold;font-style:normal;transform:scaleX(0.8936);color:#000">FMF</div>
<div class="t" style="left:266.42px;top:32.84px;font-size:12px;font-weight:bold;font-style:normal;transform:scaleX(0.7770);color:#000">INCLE</div>
<div class="t" style="left:349.85px;top:30.18px;font-size:11.6px;font-weight:normal;font-style:italic;transform:scaleX(0.9299);color:#000">Emergency Supplemental</div>
<div class="t" style="left:43.77px;top:54.94px;font-size:10.7px;font-weight:normal;font-style:normal;transform:scaleX(1.0616);color:#000">Current U.S. $, billions</div>
<div class="t" style="left:44.76px;top:92.53px;font-size:10px;font-weight:normal;font-style:normal;transform:scaleX(1.1338);color:#000">$0.0</div>
<div class="t" style="left:97.66px;top:92.53px;font-size:10px;font-weight:normal;font-style:normal;transform:scaleX(1.1126);color:#000">$2.5</div>
<div class="t" style="left:150.47px;top:92.53px;font-size:10px;font-weight:normal;font-style:normal;transform:scaleX(1.0702);color:#000">$5.0</div>
<div class="t" style="left:202.86px;top:92.53px;font-size:10px;font-weight:normal;font-style:normal;transform:scaleX(1.0861);color:#000">$7.5</div>
<div class="t" style="left:253.26px;top:92.53px;font-size:10px;font-weight:normal;font-style:normal;transform:scaleX(1.0857);color:#000">$10.0</div>
<div class="t" style="left:306.06px;top:92.53px;font-size:10px;font-weight:normal;font-style:normal;transform:scaleX(1.0939);color:#000">$12.5</div>
<div class="t" style="left:358.66px;top:92.53px;font-size:10px;font-weight:normal;font-style:normal;transform:scaleX(1.1102);color:#000">$15.0</div>
<div class="t" style="left:411.86px;top:92.53px;font-size:10px;font-weight:normal;font-style:normal;transform:scaleX(1.0898);color:#000">$17.5</div>
<div class="t" style="left:12.06px;top:117.11px;font-size:10.5px;font-weight:bold;font-style:normal;transform:scaleX(0.9853);color:#000">FY2022</div>
<div class="t" style="left:14.45px;top:131.11px;font-size:10.5px;font-weight:bold;font-style:normal;transform:scaleX(0.9968);color:#000">Actual</div>
<div class="t" style="left:9.97px;top:149.11px;font-size:10.5px;font-weight:bold;font-style:normal;transform:scaleX(0.9762);color:#000">FY2023</div>
<div class="t" style="left:8.29px;top:163.11px;font-size:10.5px;font-weight:bold;font-style:normal;transform:scaleX(0.9473);color:#000">Enacted</div>
<div class="t" style="left:9.77px;top:182.11px;font-size:10.5px;font-weight:bold;font-style:normal;transform:scaleX(0.9750);color:#000">FY2024</div>
<div class="t" style="left:8.67px;top:196.11px;font-size:10.5px;font-weight:bold;font-style:normal;transform:scaleX(0.9728);color:#000">Request</div>
<div class="t" style="left:12.08px;top:214.11px;font-size:10.5px;font-weight:bold;font-style:normal;transform:scaleX(0.9667);color:#000">FY2024</div>
<div class="t" style="left:14.87px;top:228.11px;font-size:10.5px;font-weight:bold;font-style:normal;transform:scaleX(0.9677);color:#000">House</div>
<div class="t" style="left:12.08px;top:247.11px;font-size:10.5px;font-weight:bold;font-style:normal;transform:scaleX(0.9667);color:#000">FY2024</div>
<div class="t" style="left:13.06px;top:261.11px;font-size:10.5px;font-weight:bold;font-style:normal;transform:scaleX(0.9535);color:#000">Senate</div>
<div class="t" style="left:9.97px;top:279.11px;font-size:10.5px;font-weight:bold;font-style:normal;transform:scaleX(0.9694);color:#000">FY2024</div>
<div class="t" style="left:8.50px;top:293.11px;font-size:10.5px;font-weight:bold;font-style:normal;transform:scaleX(0.9346);color:#000">Enacted</div>
<div class="t" style="left:357.08px;top:117.69px;font-size:11px;font-weight:bold;font-style:normal;transform:scaleX(0.9761);color:#000">$14.08b</div>
<div class="t" style="left:357.07px;top:132.13px;font-size:9.3px;font-weight:normal;font-style:normal;transform:scaleX(1.0502);color:#000">$8.90b Base; $5.19b Supp.</div>
<div class="t" style="left:258.08px;top:148.69px;font-size:11px;font-weight:bold;font-style:normal;transform:scaleX(0.9844);color:#000">$9.50b</div>
<div class="t" style="left:257.87px;top:165.13px;font-size:9.3px;font-weight:normal;font-style:normal;transform:scaleX(1.0493);color:#000">$8.94b Base; $0.56b Supp.</div>
<div class="t" style="left:438.08px;top:183.69px;font-size:11px;font-weight:bold;font-style:normal;transform:scaleX(0.9635);color:#000">$17.89b</div>
<div class="t" style="left:437.87px;top:198.13px;font-size:9.3px;font-weight:normal;font-style:normal;transform:scaleX(1.0493);color:#000">$9.08b Base; $8.82b Supp.</div>
<div class="t" style="left:264.88px;top:220.69px;font-size:11px;font-weight:bold;font-style:normal;transform:scaleX(0.9844);color:#000">$9.67b</div>
<div class="t" style="left:246.98px;top:252.69px;font-size:11px;font-weight:bold;font-style:normal;transform:scaleX(0.9755);color:#000">$8.82b</div>
<div class="t" style="left:407.08px;top:278.69px;font-size:11px;font-weight:bold;font-style:normal;transform:scaleX(0.9761);color:#000">$16.52b</div>
<div class="t" style="left:407.07px;top:293.13px;font-size:9.3px;font-weight:normal;font-style:normal;transform:scaleX(1.0475);color:#000">$8.55b Base; $7.97b Supp.</div>
</body></html>
